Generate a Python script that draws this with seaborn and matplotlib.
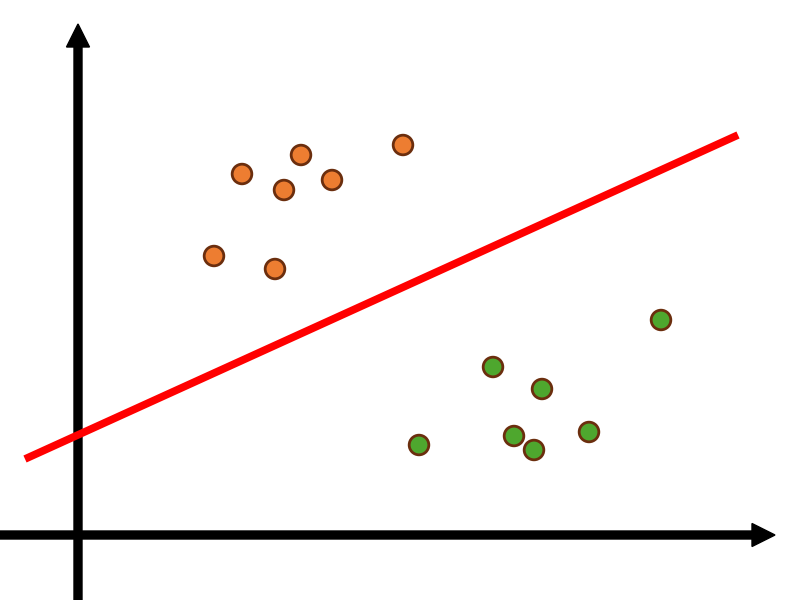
import pandas as pd
import matplotlib.pyplot as plt
import seaborn as sns

# positions (pixel-like units, y grows downward)
orange_x = [242, 301, 284, 332, 403, 214, 275]
orange_y = [174, 155, 190, 180, 145, 256, 269]
green_x = [661, 493, 542, 419, 514, 534, 589]
green_y = [320, 367, 389, 445, 436, 450, 432]

line_x = [25, 738]
line_y = [459, 135]

df = pd.DataFrame({
    'x': orange_x + green_x,
    'y': orange_y + green_y,
    'gruppo': ['A'] * len(orange_x) + ['B'] * len(green_x),
})
df_line = pd.DataFrame({'x': line_x, 'y': line_y})

sns.set_style("white")
fig = plt.figure(figsize=(8, 6), dpi=100)
ax = fig.add_axes([0, 0, 1, 1])
ax.set_xlim(0, 800)
ax.set_ylim(600, 0)
ax.axis('off')

# assi con frecce
ax.arrow(78, 600, 0, -576, width=8, head_width=23, head_length=23,
         length_includes_head=True, color='black', zorder=1)
ax.arrow(0, 535, 775, 0, width=8, head_width=23, head_length=23,
         length_includes_head=True, color='black', zorder=1)

sns.lineplot(data=df_line, x='x', y='y', color='#ff0000', linewidth=5.5,
             ax=ax, zorder=2, solid_capstyle='butt')

sns.scatterplot(data=df, x='x', y='y', hue='gruppo',
                palette={'A': '#ED7D31', 'B': '#4EA72E'},
                s=200, edgecolor='#6B2E0E', linewidth=2.0,
                legend=False, ax=ax, zorder=3)

fig.savefig('out.png', dpi=100)
